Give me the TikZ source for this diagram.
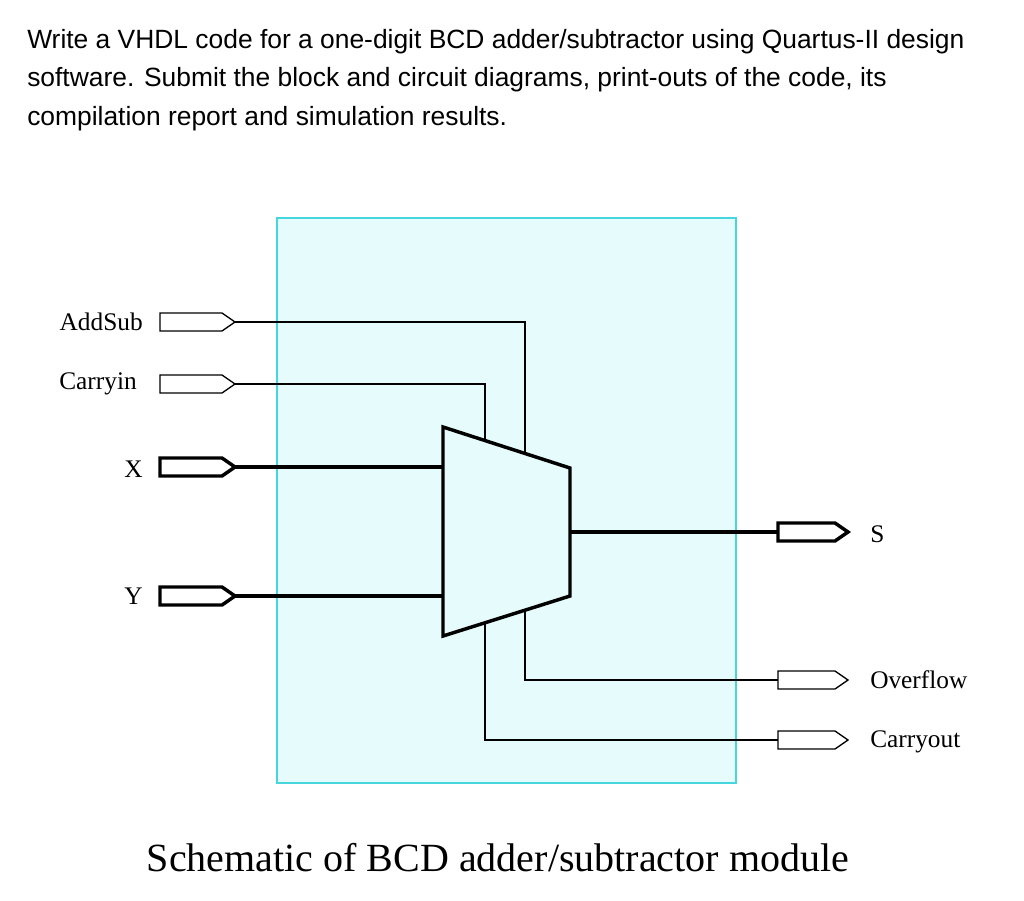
\documentclass[tikz,border=0pt]{standalone}
\usepackage{fontspec}
\setmainfont{Liberation Serif}
\newfontfamily\gsans{Liberation Sans}
\definecolor{boxfill}{HTML}{E6FBFB}
\definecolor{boxline}{HTML}{45D6DE}
\begin{document}
\begin{tikzpicture}[x=0.75pt,y=-0.75pt,
  thin port/.style={line width=1pt},
  thick port/.style={line width=2.6pt},
  wire/.style={line width=1pt},
  bus/.style={line width=2.6pt},
  lbl/.style={font=\fontsize{19}{22}\selectfont, inner sep=0pt},
  para/.style={font=\gsans\fontsize{19.8}{29}\selectfont, anchor=west, inner sep=0pt}]
\useasboundingbox (0,0) rectangle (1024,900);
\node[para] (t1) at (27,42) {Write a VHDL code for a one-digit BCD adder/subtractor using Quartus-II design};
\node[para] (t2) at (27,80) {software. Submit the block and circuit diagrams, print-outs of the code, its};
\node[para] (t3) at (27,119) {compilation report and simulation results.};
\draw[boxline, fill=boxfill, line width=1.5pt] (277,218) rectangle (736,783);
% input ports
\foreach \n/\y/\s in {as/322/thin port, ci/384/thin port, x/467/thick port, y/596/thick port}{
  \draw[\s, line join=miter] (160,\y-9) -- (222,\y-9) -- (235,\y) -- (222,\y+9) -- (160,\y+9) -- cycle;
  \coordinate (\n) at (235,\y);
}
\foreach \n/\y/\s in {s/532/thick port, ov/680/thin port, co/740/thin port}{
  \draw[\s, line join=miter] (778,\y-9) -- (835,\y-9) -- (848,\y) -- (835,\y+9) -- (778,\y+9) -- cycle;
  \coordinate (\n) at (778,\y);
}
\node[lbl, anchor=east] (las) at (143,322) {AddSub};
\node[lbl, anchor=east] (lci) at (137,384) {Carryin};
\node[lbl, anchor=east] (lx) at (143,469) {X};
\node[lbl, anchor=east] (ly) at (143,596) {Y};
\node[lbl, anchor=west] (ls) at (870,534) {S};
\node[lbl, anchor=west] (lov) at (870,680) {Overflow};
\node[lbl, anchor=west] (lco) at (870,742) {Carryout};
% mux
\draw[line width=2.6pt, line join=miter] (443,427) -- (570,468) -- (570,596) -- (443,636) -- cycle;
\coordinate (mt1) at (485,440.5);
\coordinate (mt2) at (525,453.5);
\coordinate (mb1) at (485,622.5);
\coordinate (mb2) at (525,610);
\draw[wire] (as) -| (mt2);
\draw[wire] (ci) -| (mt1);
\draw[bus] (x) -- (443,467);
\draw[bus] (y) -- (443,596);
\draw[bus] (570,532) -- (s);
\draw[wire] (mb2) |- (ov);
\draw[wire] (mb1) |- (co);
\node[font=\fontsize{30}{34}\selectfont] (cap) at (498,858) {Schematic of BCD adder/subtractor module};
\end{tikzpicture}
\end{document}
